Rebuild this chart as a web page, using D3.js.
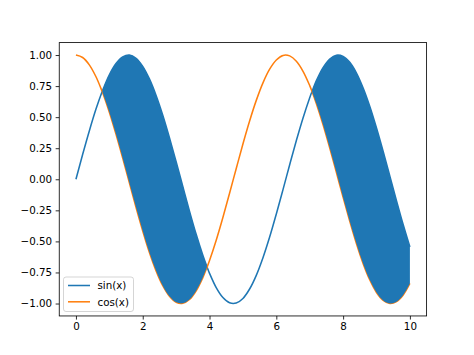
<!DOCTYPE html>
<html><head><meta charset="utf-8">
<script src="https://cdn.jsdelivr.net/npm/d3@7"></script>
<style>body{margin:0;background:#fff}svg{display:block}text{font-family:"DejaVu Sans",sans-serif}</style>
</head><body><div id="chart"></div>
<script>
const xValues = [0,0.2,0.4,0.6,0.785,0.8,1.0,1.2,1.4,1.6,1.8,2.0,2.2,2.4,2.6,2.8,3.0,3.2,3.4,3.6,3.8,3.927,4.0,4.2,4.4,4.6,4.8,5.0,5.2,5.4,5.6,5.8,6.0,6.2,6.4,6.6,6.8,7.0,7.069,7.2,7.4,7.6,7.8,8.0,8.2,8.4,8.6,8.8,9.0,9.2,9.4,9.6,9.8,10.0];
const sinValues = [0,0.199,0.389,0.565,0.707,0.717,0.841,0.932,0.985,1.000,0.974,0.909,0.808,0.675,0.516,0.335,0.141,-0.058,-0.256,-0.443,-0.612,-0.707,-0.757,-0.872,-0.952,-0.994,-0.996,-0.959,-0.883,-0.773,-0.631,-0.465,-0.279,-0.083,0.117,0.312,0.494,0.657,0.707,0.794,0.899,0.968,0.999,0.989,0.941,0.855,0.734,0.585,0.412,0.223,0.025,-0.174,-0.366,-0.544];
const cosValues = [1,0.980,0.921,0.825,0.707,0.697,0.540,0.362,0.170,-0.029,-0.227,-0.416,-0.589,-0.737,-0.857,-0.942,-0.990,-0.998,-0.967,-0.897,-0.791,-0.707,-0.654,-0.490,-0.307,-0.112,0.087,0.284,0.469,0.635,0.776,0.886,0.960,0.997,0.993,0.950,0.869,0.754,0.707,0.608,0.439,0.252,0.054,-0.146,-0.339,-0.519,-0.679,-0.811,-0.911,-0.975,-1.000,-0.985,-0.931,-0.839];
const xTicks = [0,2,4,6,8,10];
const yTicks = [-1.00,-0.75,-0.50,-0.25,0.00,0.25,0.50,0.75,1.00];
const seriesNames = ["sin(x)","cos(x)"];
const colors = ["#1f77b4","#ff7f0e"];

const W=474,H=355, L=59.25, R=426.6, T=42.6, B=315.95;
const data = xValues.map((x,i)=>({x, s:sinValues[i], c:cosValues[i]}));
const svg = d3.select("#chart").append("svg").attr("width",W).attr("height",H);
const x = d3.scaleLinear().domain([-0.5,10.5]).range([L,R]);
const y = d3.scaleLinear().domain([-1.1,1.1]).range([B,T]);
const curve = d3.curveCatmullRom.alpha(0.5);

const g = svg.append("g");
const line = key => d3.line().x(d=>x(d.x)).y(d=>y(d[key])).curve(curve);
g.append("path").datum(data).attr("d",line("s")).attr("fill","none").attr("stroke",colors[0]).attr("stroke-width",1.54);
g.append("path").datum(data).attr("d",line("c")).attr("fill","none").attr("stroke",colors[1]).attr("stroke-width",1.54);
const area = d3.area().defined(d=>d.s>=d.c-1e-9).x(d=>x(d.x)).y0(d=>y(d.c)).y1(d=>y(d.s)).curve(curve);
g.append("path").datum(data).attr("d",area).attr("fill",colors[0]).attr("stroke","none");

// axes
const xAxis = svg.append("g").attr("transform",`translate(0,${B})`)
  .call(d3.axisBottom(x).tickValues(xTicks).tickSize(3.6).tickPadding(3.6).tickFormat(d3.format("d")));
const yAxis = svg.append("g").attr("transform",`translate(${L},0)`)
  .call(d3.axisLeft(y).tickValues(yTicks).tickSize(3.6).tickPadding(3.6).tickFormat(d=>d3.format(".2f")(d).replace("-","\u2212")));
[xAxis,yAxis].forEach(a=>{
  a.select(".domain").remove();
  a.selectAll("line").attr("stroke","#000").attr("stroke-width",0.82);
  a.selectAll("text").attr("font-size",10.3).attr("fill","#000").attr("font-family","DejaVu Sans");
});
svg.append("rect").attr("x",L).attr("y",T).attr("width",R-L).attr("height",B-T)
  .attr("fill","none").attr("stroke","#000").attr("stroke-width",0.82);

// legend
const lg = svg.append("g");
lg.append("rect").attr("x",63.5).attr("y",277).attr("width",70).attr("height",34.5).attr("rx",2.5)
  .attr("fill","#fff").attr("fill-opacity",0.8).attr("stroke","#cccccc").attr("stroke-width",0.82);
seriesNames.forEach((n,i)=>{
  const yy = 285.5 + i*16.3;
  lg.append("line").attr("x1",68).attr("x2",90).attr("y1",yy).attr("y2",yy).attr("stroke",colors[i]).attr("stroke-width",1.54);
  lg.append("text").attr("x",97.5).attr("y",yy).attr("dy","0.36em").attr("font-size",10.3).attr("fill","#000").text(n);
});
</script></body></html>
